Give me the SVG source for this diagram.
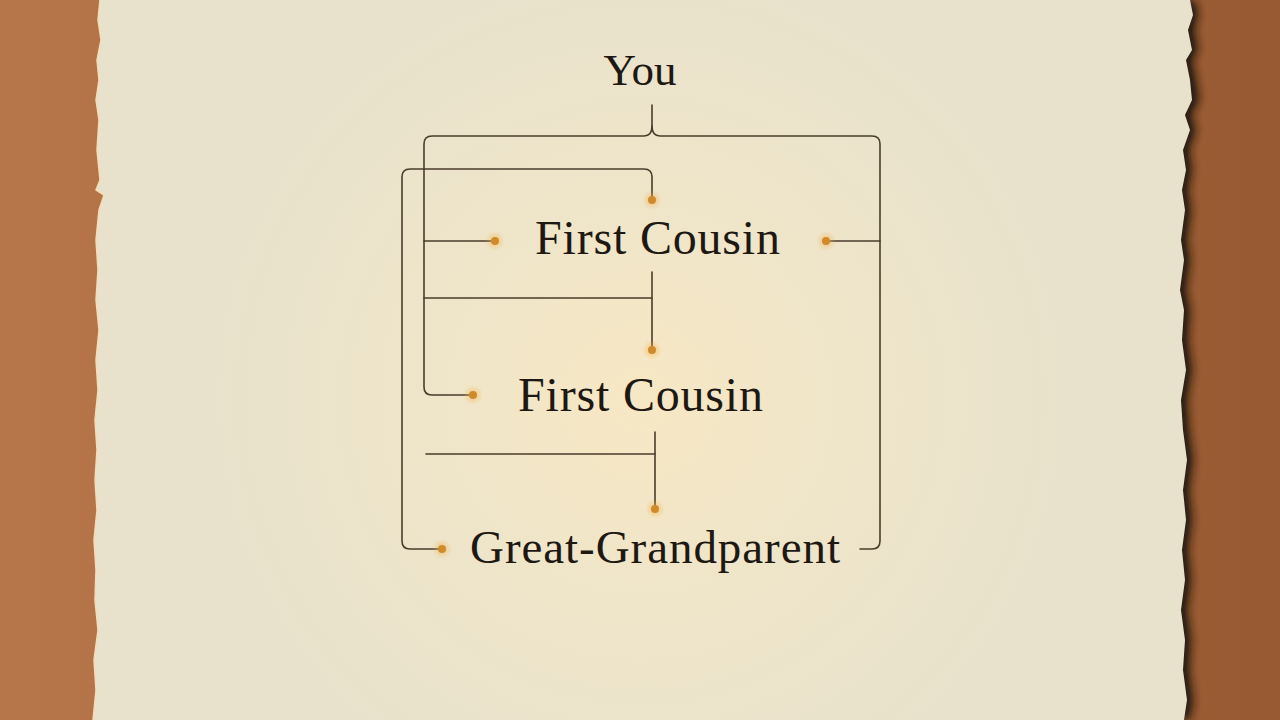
<svg xmlns="http://www.w3.org/2000/svg" width="1280" height="720" viewBox="0 0 1280 720">
  <defs>
    <linearGradient id="wall" x1="0" y1="0" x2="1" y2="0">
      <stop offset="0" stop-color="#b7764a"/>
      <stop offset="0.5" stop-color="#a86838"/>
      <stop offset="1" stop-color="#985a33"/>
    </linearGradient>
    <radialGradient id="glow" cx="640" cy="400" r="440" gradientUnits="userSpaceOnUse">
      <stop offset="0" stop-color="#f7e8c4"/>
      <stop offset="0.45" stop-color="#efe5c9"/>
      <stop offset="1" stop-color="#e8e2cc"/>
    </radialGradient>
    <radialGradient id="dotGlow">
      <stop offset="0" stop-color="#f2b24a" stop-opacity="0.6"/>
      <stop offset="1" stop-color="#f2b24a" stop-opacity="0"/>
    </radialGradient>
    <filter id="blur" x="-20%" y="-5%" width="140%" height="110%">
      <feGaussianBlur stdDeviation="5"/>
    </filter>
    <style>
      .lbl { font-family: "Liberation Serif", "Times New Roman", serif; fill: #1e1812; }
      .ln { fill: none; stroke: #4a3d2c; stroke-width: 1.6; stroke-linecap: round; stroke-linejoin: round; }
      .dot { fill: #d18a2a; }
    </style>
  </defs>

  <!-- wall -->
  <rect x="0" y="0" width="1280" height="720" fill="url(#wall)"/>

  <!-- paper shadow on right -->
  <path d="M1195,0 L1198,15 L1194,30 L1198,50 L1192,60 L1196,80 L1199,100 L1191,115 L1196,130 L1189,150 L1192,170 L1188,190 L1191,210 L1187,240 L1190,260 L1186,290 L1190,310 L1188,340 L1192,370 L1187,400 L1189,430 L1193,460 L1189,490 L1192,520 L1188,550 L1191,580 L1187,610 L1191,640 L1189,670 L1193,700 L1190,720 L1100,720 L1100,0 Z" fill="#1e120a" filter="url(#blur)"/>

  <!-- paper -->
  <path id="paper" d="M100,0 L98,20 L101,40 L97,60 L99,80 L96,100 L99,120 L97,150 L100,180 L96,190 L104,195 L99,210 L96,240 L98,270 L96,300 L99,330 L96,360 L98,390 L95,420 L97,450 L95,480 L97,510 L94,540 L96,570 L95,600 L98,630 L94,660 L96,690 L93,720 L1184,720 L1187,700 L1183,670 L1185,640 L1181,610 L1185,580 L1182,550 L1186,520 L1183,490 L1187,460 L1183,430 L1181,400 L1186,370 L1182,340 L1184,310 L1180,290 L1184,260 L1181,240 L1185,210 L1182,190 L1186,170 L1183,150 L1190,130 L1185,115 L1192,100 L1190,80 L1186,60 L1192,50 L1188,30 L1193,15 L1190,0 Z" fill="url(#glow)"/>
  <path d="M100,0 L98,20 L101,40 L97,60 L99,80 L96,100 L99,120 L97,150 L100,180 L96,190 L104,195 L99,210 L96,240 L98,270 L96,300 L99,330 L96,360 L98,390 L95,420 L97,450 L95,480 L97,510 L94,540 L96,570 L95,600 L98,630 L94,660 L96,690 L93,720" fill="none" stroke="#f5dcb6" stroke-width="1.5"/>

  <!-- connectors -->
  <g id="connectors">
    <!-- brace from You -->
    <path class="ln" d="M652,105 L652,126 Q652,136 644,136 L432,136 Q424,136 424,144 L424,387 Q424,395 432,395 L473,395"/>
    <path class="ln" d="M652,126 Q652,136 660,136 L872,136 Q880,136 880,144 L880,541 Q880,549 872,549 L860,549"/>
    <path class="ln" d="M424,241 L495,241"/>
    <path class="ln" d="M880,241 L826,241"/>
    <path class="ln" d="M424,298 L652,298"/>
    <path class="ln" d="M652,272 L652,350"/>
    <path class="ln" d="M652,200 L652,177 Q652,169 644,169 L410,169 Q402,169 402,177 L402,541 Q402,549 410,549 L442,549"/>
    <path class="ln" d="M426,454 L655,454"/>
    <path class="ln" d="M655,432 L655,509"/>
  </g>

  <!-- dots -->
  <g id="dots">
    <circle cx="652" cy="200" r="10" fill="url(#dotGlow)"/><circle class="dot" cx="652" cy="200" r="4"/>
    <circle cx="495" cy="241" r="10" fill="url(#dotGlow)"/><circle class="dot" cx="495" cy="241" r="4"/>
    <circle cx="826" cy="241" r="10" fill="url(#dotGlow)"/><circle class="dot" cx="826" cy="241" r="4"/>
    <circle cx="652" cy="350" r="10" fill="url(#dotGlow)"/><circle class="dot" cx="652" cy="350" r="4"/>
    <circle cx="473" cy="395" r="10" fill="url(#dotGlow)"/><circle class="dot" cx="473" cy="395" r="4"/>
    <circle cx="655" cy="509" r="10" fill="url(#dotGlow)"/><circle class="dot" cx="655" cy="509" r="4"/>
    <circle cx="442" cy="549" r="10" fill="url(#dotGlow)"/><circle class="dot" cx="442" cy="549" r="4"/>
  </g>

  <!-- nodes -->
  <g id="node-you">
    <text class="lbl" x="640" y="85" font-size="45" text-anchor="middle">You</text>
  </g>
  <g id="node-first-cousin-1">
    <text class="lbl" x="535" y="254" font-size="48" textLength="245" lengthAdjust="spacing">First Cousin</text>
  </g>
  <g id="node-first-cousin-2">
    <text class="lbl" x="518" y="411" font-size="48" textLength="245" lengthAdjust="spacing">First Cousin</text>
  </g>
  <g id="node-great-grandparent">
    <text class="lbl" x="470" y="563" font-size="47" textLength="370" lengthAdjust="spacing">Great-Grandparent</text>
  </g>
</svg>
